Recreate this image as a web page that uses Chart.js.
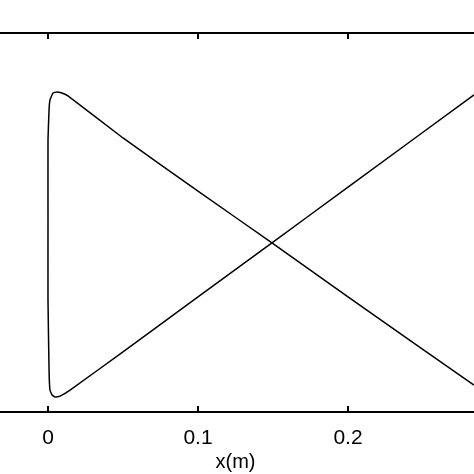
<!DOCTYPE html>
<html><head><meta charset="utf-8">
<script src="https://cdn.jsdelivr.net/npm/chart.js@4"></script>
<style>
body{margin:0;overflow:hidden;background:#fff;width:474px;height:474px;position:relative}
#wrap{position:absolute;left:-40px;top:0;width:560px;height:474px}
</style></head><body>
<div id="wrap"><canvas id="c"></canvas></div>
<script>
// curve: x in m, y in normalised units (-1..1)
var xs = [0.284, 0.2, 0.1493, 0.1, 0.05, 0.0147, 0.008, 0.0047, 0.0027, 0.0013, 0.0007, 0.0, 0.0, 0.0, 0.0007, 0.0013, 0.0033, 0.006, 0.0093, 0.0133, 0.05, 0.1, 0.1493, 0.2, 0.284];
var ys = [0.673, 0.187, -0.108, -0.393, -0.683, -0.884, -0.916, -0.921, -0.91, -0.884, -0.778, -0.41, 0.0, 0.435, 0.594, 0.646, 0.683, 0.689, 0.683, 0.668, 0.446, 0.166, -0.108, -0.393, -0.858];
var xTicks = [0, 0.1, 0.2];

var pts = xs.map(function(x, i){ return {x: x, y: ys[i]}; });

var frame = {
	id: 'frame',
	afterDraw: function(chart){
		var a = chart.chartArea, ctx = chart.ctx, sx = chart.scales.x;
		ctx.save();
		ctx.strokeStyle = '#000';
		ctx.lineWidth = 2;
		ctx.strokeRect(a.left, a.top, a.right - a.left, a.bottom - a.top);
		xTicks.forEach(function(t){
			var p = sx.getPixelForValue(t);
			ctx.beginPath();
			ctx.moveTo(p, a.top); ctx.lineTo(p, a.top + 6);
			ctx.moveTo(p, a.bottom); ctx.lineTo(p, a.bottom - 6);
			ctx.stroke();
		});
		ctx.restore();
	}
};

new Chart(document.getElementById('c'), {
	type: 'scatter',
	data: {datasets: [{data: pts, showLine: true, borderColor: '#000', borderWidth: 1.5, pointRadius: 0, tension: 0.1, fill: false}]},
	options: {
		responsive: true, maintainAspectRatio: false, animation: false,
		layout: {padding: {left: 13, right: 22, top: 33, bottom: 0}},
		plugins: {legend: {display: false}, tooltip: {enabled: false}},
		scales: {
			x: {
				min: -0.05, max: 0.3,
				afterBuildTicks: function(s){ s.ticks = xTicks.map(function(v){ return {value: v}; }); },
				afterFit: function(s){ s.height = 62; },
				grid: {display: false, drawTicks: false},
				border: {display: false},
				ticks: {padding: 14, color: '#000', font: {family: 'Liberation Sans', size: 21}, maxRotation: 0,
					callback: function(v){ return String(v); }},
				title: {display: true, text: 'x(m)', color: '#000', padding: {top: -8, bottom: 0}, font: {family: 'Liberation Sans', size: 20}}
			},
			y: {display: false, min: -1, max: 1}
		}
	},
	plugins: [frame]
});
</script>
</body></html>
